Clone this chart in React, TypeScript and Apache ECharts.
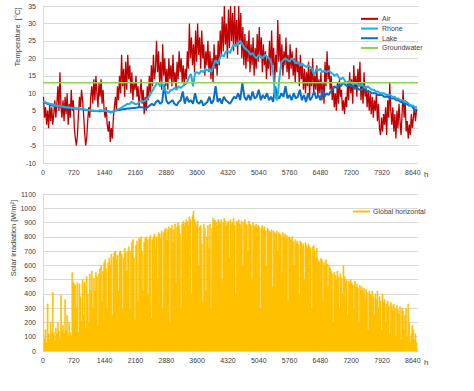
import React, { useEffect, useRef } from "react";
import * as echarts from "echarts";

// Air temperature, one value per day (°C), day 0..364
const airDaily = [
  9, 3, 6, 1, 5, 0, 7, 2, 6, 1,
  4, 8, 3, 7, 12, 5, 16, 6, 3, 8,
  2, 9, 4, 10, 1, 7, 3, 11, 5, 8,
  0, -3, -5, -2, 4, 9, 6, 11, 8, 4,
  -1, -5, -3, 2, 6, 3, 9, 12, 7, 14,
  8, 15, 10, 6, 13, 9, 14, 7, 11, 5,
  3, 6, 1, -1, 2, -4, 0, -3, 3, 6,
  9, 5, 12, 8, 15, 10, 21, 12, 17, 9,
  19, 11, 21, 14, 18, 10, 16, 8, 13, 11,
  15, 9, 12, 6, 10, 14, 7, 11, 4, 9,
  5, 12, 8, 15, 10, 18, 12, 21, 14, 17,
  25, 16, 22, 13, 19, 11, 24, 15, 20, 12,
  17, 11, 20, 14, 18, 12, 21, 13, 16, 11,
  19, 14, 22, 16, 20, 13, 18, 12, 17, 14,
  22, 17, 30, 20, 26, 18, 24, 16, 28, 19,
  30, 21, 26, 17, 28, 20, 24, 15, 22, 18,
  25, 16, 22, 14, 20, 13, 24, 17, 21, 15,
  25, 18, 28, 21, 32, 22, 35, 24, 30, 20,
  34, 23, 35, 25, 33, 22, 35, 24, 31, 21,
  35, 24, 33, 20, 29, 18, 27, 17, 25, 19,
  28, 16, 24, 18, 26, 15, 23, 17, 27, 19,
  29, 20, 26, 16, 24, 18, 22, 14, 20, 17,
  25, 15, 28, 18, 23, 13, 21, 16, 31, 19,
  27, 17, 24, 15, 22, 18, 26, 16, 21, 14,
  24, 17, 22, 15, 20, 13, 23, 16, 19, 12,
  21, 14, 18, 11, 17, 10, 16, 12, 19, 9,
  17, 12, 20, 10, 15, 11, 18, 9, 14, 10,
  16, 8, 13, 7, 19, 12, 22, 14, 18, 11,
  15, 8, 12, 6, 10, 5, 13, 7, 14, 9,
  11, 5, 8, 4, 9, 6, 13, 8, 16, 10,
  14, 7, 18, 11, 15, 9, 17, 12, 19, 8,
  13, 7, 16, 9, 12, 6, 11, 5, 10, 4,
  9, 3, 8, 5, 10, 2, 7, 0, -2, 3,
  -1, 4, 1, 6, -2, 8, 3, 13, 5, 1,
  6, -1, 4, -3, 5, 0, 7, 2, -2, 4,
  11, 3, 8, -1, 2, -3, 1, -2, 4, 0,
  3, 6, 2, 5, 5,
];

// Rhone water temperature, one value every 2 days (°C)
const rhone2d = [
  7.6, 7.4, 7.2, 7, 6.9, 6.7, 6.5, 6.4, 6.3, 6.2,
  6.1, 6, 6, 5.9, 5.8, 5.7, 5.6, 5.6, 5.5, 5.4,
  5.4, 5.3, 5.2, 5.1, 5, 5, 4.9, 5, 5.1, 5,
  5, 4.9, 4.7, 4.5, 4.6, 5, 5.3, 5.5, 5.8, 6.2,
  6.5, 7, 6.8, 7.5, 7.2, 6.8, 7, 7.5, 7.8, 7.6,
  8, 8.5, 9.5, 10.5, 11.5, 12.5, 13, 12, 13.3, 11,
  10.5, 10, 10.8, 11, 11.5, 11, 12, 11.5, 12, 12.5,
  13, 14.5, 15.5, 12, 15.8, 16, 15.5, 16.5, 16, 17,
  16.5, 17, 16, 18, 19.5, 18.5, 20, 21, 20.5, 22,
  22, 21.5, 23, 24, 23.5, 24.5, 25, 24, 23, 22.5,
  22, 21, 21.5, 20.5, 20, 21, 20.5, 20, 21, 20.5,
  20, 19, 16, 9, 8, 14, 19, 19.5, 20, 19.5,
  19, 20, 19.5, 18.5, 19, 18, 18.5, 18, 17.5, 18,
  17.5, 17, 15, 17, 16.5, 17, 16, 16.5, 16, 16.5,
  16, 15.5, 15, 15.5, 14.5, 14, 14.5, 13.5, 13, 13.5,
  13, 12.5, 13, 12.5, 12, 12.5, 12, 11.5, 12, 11.5,
  11, 11, 10.5, 10.5, 10, 10, 10, 9.5, 9.5, 9.5,
  9, 9, 8.5, 8.5, 8, 8, 7.5, 7.5, 7, 6.5,
  6.5, 6, 6,
];

// Lake water temperature, one value every 2 days (°C)
const lake2d = [
  7.5, 7.3, 7, 6.8, 6.6, 6.4, 6.3, 6.2, 6.1, 6,
  6, 5.9, 5.8, 5.8, 5.7, 5.6, 5.6, 5.5, 5.5, 5.4,
  5.3, 5.2, 5.1, 5, 5, 4.9, 4.9, 4.8, 4.8, 4.9,
  4.9, 5, 4.8, 4.5, 4.7, 5, 5.1, 5.2, 5.3, 5.4,
  5.5, 5.6, 5.6, 5.7, 5.8, 5.8, 5.9, 6, 6, 5.8,
  5.7, 6, 6.5, 7, 6.5, 7.5, 8, 7, 7.5, 12.5,
  8, 7, 7.5, 8, 7, 6.5, 7.5, 8, 10.5, 7,
  9, 7.5, 8, 7, 10, 7.5, 7, 8, 6.5, 7,
  7.5, 9, 7, 8, 12, 7.5, 8.5, 7, 9, 8,
  7.5, 7, 8, 9, 8.5, 10, 8, 13, 9, 8,
  9.5, 8, 10.5, 8.5, 9, 11, 8, 9.5, 8.5, 10,
  8, 9, 7.5, 12, 9, 8.5, 10, 9, 12, 8.5,
  9.5, 8, 10, 8.5, 9, 11, 8, 9.5, 7.5, 10,
  8, 9, 10.5, 8.5, 9.5, 8, 11, 9, 10, 9.5,
  10.5, 11, 12, 11.5, 12.5, 12, 13, 12.5, 12, 12.5,
  12, 12, 11.5, 11.5, 11, 11, 11.5, 11, 10.5, 10.5,
  10, 10, 10, 9.5, 9.5, 9.5, 9, 9, 9, 8.5,
  8.5, 8.5, 8, 8, 7.5, 7.5, 7, 7, 6.5, 6.5,
  6, 5, 5.5,
];

// Groundwater temperature (°C), constant over the year
const groundwater = [13, 13];
const groundwaterHours = [0, 8760];

// Global horizontal irradiation, daily peak (W/m²), day 0..364
const solarDaily = [
  380, 90, 150, 60, 330, 120, 80, 200, 110, 410,
  130, 70, 160, 120, 200, 140, 90, 390, 150, 180,
  120, 360, 140, 250, 100, 200, 130, 110, 550, 480,
  470, 460, 300, 480, 130, 470, 380, 210, 500, 250,
  480, 160, 520, 400, 200, 540, 430, 560, 300, 510,
  420, 550, 520, 180, 540, 580, 600, 350, 560, 620,
  640, 580, 300, 620, 650, 600, 680, 250, 660, 690,
  700, 640, 670, 420, 690, 700, 680, 300, 650, 720,
  690, 560, 700, 730, 300, 700, 760, 780, 650, 220,
  740, 770, 350, 790, 780, 800, 700, 420, 760, 790,
  800, 780, 400, 790, 810, 230, 780, 800, 820, 720,
  800, 500, 830, 820, 790, 840, 300, 830, 850, 860,
  780, 850, 870, 200, 860, 880, 760, 850, 890, 480,
  870, 900, 880, 820, 300, 890, 910, 880, 900, 920,
  910, 880, 940, 920, 400, 950, 980, 920, 900, 880,
  910, 600, 870, 880, 750, 350, 890, 860, 420, 800,
  880, 720, 890, 300, 860, 930, 910, 920, 900, 880,
  920, 910, 890, 920, 500, 900, 930, 910, 880, 900,
  910, 650, 920, 890, 900, 930, 880, 400, 910, 900,
  920, 890, 880, 910, 600, 900, 920, 890, 880, 700,
  910, 890, 880, 500, 900, 880, 870, 890, 860, 880,
  870, 300, 860, 880, 850, 870, 840, 600, 860, 850,
  840, 830, 850, 450, 840, 830, 820, 840, 700, 830,
  820, 810, 550, 830, 800, 820, 790, 810, 350, 800,
  790, 780, 800, 770, 600, 780, 760, 770, 750, 400,
  770, 760, 740, 750, 500, 760, 740, 720, 750, 730,
  720, 300, 730, 740, 700, 650, 720, 640, 630, 620,
  650, 640, 350, 620, 600, 640, 610, 450, 600, 580,
  560, 540, 200, 550, 530, 500, 560, 520, 300, 540,
  510, 400, 600, 520, 480, 500, 250, 490, 470, 500,
  480, 460, 300, 490, 450, 470, 440, 200, 460, 430,
  450, 420, 440, 350, 430, 410, 150, 420, 400, 390,
  420, 380, 250, 400, 360, 420, 300, 380, 350, 150,
  400, 340, 360, 200, 330, 350, 310, 120, 340, 320,
  280, 330, 300, 100, 320, 290, 260, 310, 80, 300,
  280, 150, 250, 300, 100, 330, 200, 60, 120, 180,
  150, 80, 120, 60, 40,
];

const xTicksMax = 8760;
const xInterval = 720;
const tempTicks = { min: -10, max: 35, interval: 5 };
const solarTicks = { min: 0, max: 1100, interval: 100 };

const COLORS = {
  air: "#C00000",
  rhone: "#1CB0E8",
  lake: "#0A6FC2",
  ground: "#92D050",
  solar: "#FFC000",
};

const FONT = "'Liberation Sans', Arial, sans-serif";
const TXT = "#404040";

export default function App() {
  const ref = useRef<HTMLDivElement>(null);

  useEffect(() => {
    if (!ref.current) return;
    const chart = echarts.init(ref.current, undefined, { renderer: "svg" });

    const airData = airDaily.map((v, i) => [i * 24 + 12, v]);
    const rhoneData = rhone2d.map((v, i) => [i * 48, v]);
    const lakeData = lake2d.map((v, i) => [i * 48, v]);
    const groundData = groundwater.map((v, i) => [groundwaterHours[i], v]);
    const solarData = solarDaily.map((v, i) => [i * 24 + 12, v]);

    const xAxisBase = (gridIndex: number) => ({
      type: "value",
      gridIndex,
      min: 0,
      max: xTicksMax,
      interval: xInterval,
      axisLine: { show: false },
      axisTick: { show: false },
      splitLine: { show: false },
      axisLabel: {
        fontSize: 7,
        fontFamily: FONT,
        color: TXT,
        margin: 6,
        formatter: (v: number) => (v % xInterval === 0 ? String(v) : ""),
      },
    });

    const yAxisBase = (gridIndex: number, t: { min: number; max: number; interval: number }) => ({
      type: "value",
      gridIndex,
      min: t.min,
      max: t.max,
      interval: t.interval,
      axisLine: { show: true, lineStyle: { color: "#d9d9d9", width: 1 } },
      axisTick: { show: false },
      splitLine: { show: true, lineStyle: { color: "#d9d9d9", width: 1 } },
      axisLabel: {
        fontSize: 7,
        fontFamily: FONT,
        color: TXT,
        margin: 7,
        formatter: (v: number) => String(v),
      },
    });

    chart.setOption({
      animation: false,
      backgroundColor: "#ffffff",
      grid: [
        { left: 43, top: 6, width: 375, height: 157 },
        { left: 43, top: 194, width: 375, height: 157 },
      ],
      xAxis: [xAxisBase(0), xAxisBase(1)],
      yAxis: [yAxisBase(0, tempTicks), yAxisBase(1, solarTicks)],
      legend: [
        {
          data: ["Air", "Rhone", "Lake", "Groundwater"],
          orient: "vertical",
          left: 356,
          top: 9,
          itemWidth: 17,
          itemHeight: 2,
          itemGap: 0,
          icon: "rect",
          textStyle: { fontSize: 7, fontFamily: FONT, color: TXT, lineHeight: 9.7, padding: [0, 0, 0, -1] },
        },
        {
          data: ["Global horizontal"],
          left: 348,
          top: 203,
          itemWidth: 17,
          itemHeight: 2,
          icon: "rect",
          textStyle: { fontSize: 7, fontFamily: FONT, color: TXT, padding: [0, 0, 0, -2] },
        },
      ],
      graphic: [
        {
          type: "text",
          x: 17,
          y: 37,
          rotation: Math.PI / 2,
          style: {
            text: "Temperature  [°C]",
            align: "center",
            verticalAlign: "middle",
            fontSize: 7.5,
            fontFamily: FONT,
            fill: TXT,
          },
        },
        {
          type: "text",
          x: 13,
          y: 238,
          rotation: Math.PI / 2,
          style: {
            text: "Solar irradiation [W/m²]",
            align: "center",
            verticalAlign: "middle",
            fontSize: 7.5,
            fontFamily: FONT,
            fill: TXT,
          },
        },
        {
          type: "text",
          x: 424,
          y: 174,
          style: { text: "h", align: "left", verticalAlign: "middle", fontSize: 8, fontFamily: FONT, fill: TXT },
        },
        {
          type: "text",
          x: 424,
          y: 362,
          style: { text: "h", align: "left", verticalAlign: "middle", fontSize: 8, fontFamily: FONT, fill: TXT },
        },
      ],
      series: [
        {
          name: "Air",
          type: "line",
          xAxisIndex: 0,
          yAxisIndex: 0,
          data: airData,
          showSymbol: false,
          symbol: "none",
          lineStyle: { color: COLORS.air, width: 1.3 },
          itemStyle: { color: COLORS.air },
          z: 2,
        },
        {
          name: "Lake",
          type: "line",
          xAxisIndex: 0,
          yAxisIndex: 0,
          data: lakeData,
          symbol: "none",
          lineStyle: { color: COLORS.lake, width: 2 },
          itemStyle: { color: COLORS.lake },
          z: 3,
        },
        {
          name: "Rhone",
          type: "line",
          xAxisIndex: 0,
          yAxisIndex: 0,
          data: rhoneData,
          symbol: "none",
          lineStyle: { color: COLORS.rhone, width: 2 },
          itemStyle: { color: COLORS.rhone },
          z: 4,
        },
        {
          name: "Groundwater",
          type: "line",
          xAxisIndex: 0,
          yAxisIndex: 0,
          data: groundData,
          symbol: "none",
          lineStyle: { color: COLORS.ground, width: 1.3 },
          itemStyle: { color: COLORS.ground },
          z: 5,
        },
        {
          name: "Global horizontal",
          type: "line",
          step: "middle",
          xAxisIndex: 1,
          yAxisIndex: 1,
          data: solarData,
          symbol: "none",
          lineStyle: { color: COLORS.solar, width: 0.6 },
          itemStyle: { color: COLORS.solar },
          areaStyle: { color: COLORS.solar, opacity: 1 },
          z: 2,
        },
      ],
    });

    return () => chart.dispose();
  }, []);

  return (
    <div
      ref={ref}
      style={{ position: "fixed", left: 0, top: 0, width: 474, height: 391, background: "#fff" }}
    />
  );
}
